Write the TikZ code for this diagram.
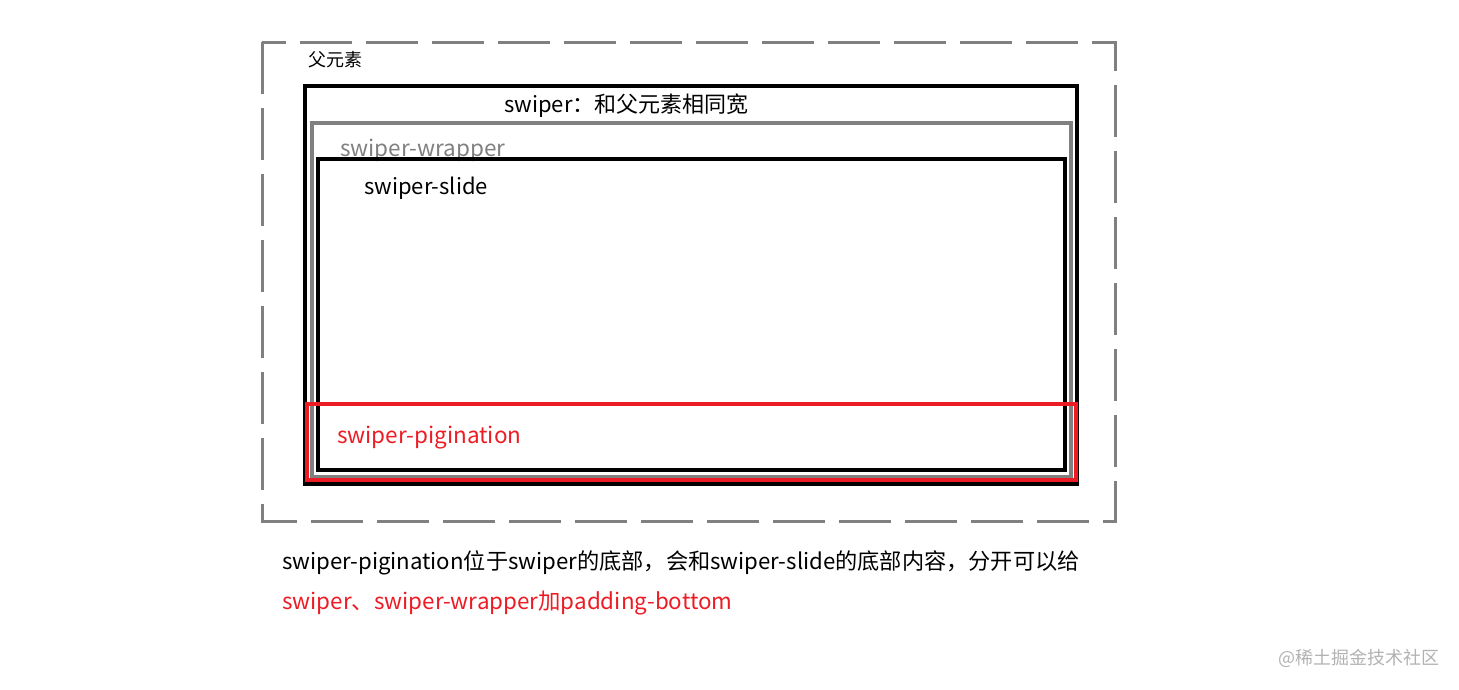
\documentclass[tikz,border=0pt]{standalone}
\usepackage{fontspec}
\setmainfont{Noto Sans CJK SC}
\definecolor{paintred}{RGB}{237,28,36}
\definecolor{paintgray}{RGB}{128,128,128}
\tikzset{
  txt/.style={anchor=base west, inner sep=0pt, font=\fontsize{22}{26}\selectfont},
  small/.style={font=\fontsize{18}{21}\selectfont},
  box/.style={line width=4.8pt},
}

\begin{document}
\begin{tikzpicture}[x=1pt,y=-1pt]
  \useasboundingbox (0,0) rectangle (1459,689);
  % parent element
  \draw[paintgray, line width=3pt, dash pattern=on 52pt off 14pt]
  (262,42) rectangle (1115,521);
  \node[txt, small] (parent) at (308,66) {父元素};
  % swiper
  \draw[box] (305,86) rectangle (1077,484);
  \node[txt] (swiper) at (504,112.5) {swiper：和父元素相同宽};
  % wrapper
  \draw[box, paintgray] (312,123) rectangle (1071,477);
  \node[txt, paintgray, font=\fontsize{22.5}{26}\selectfont] (wrapper) at (340,156) {swiper-wrapper};
  % slide
  \draw[box] (318,159) rectangle (1065,470);
  \node[txt] (slide) at (364,194) {swiper-slide};
  % pagination
  \draw[box, paintred] (307,404) rectangle (1076,480);
  \node[txt, paintred, font=\fontsize{22.5}{26}\selectfont] (pagi) at (337,443) {swiper-pigination};
  % notes
  \node[txt, font=\fontsize{22.2}{26}\selectfont] (note) at (282,569) {swiper-pigination位于swiper的底部，会和swiper-slide的底部内容，分开可以给};
  \node[txt, paintred, font=\fontsize{22.4}{26}\selectfont] (fix) at (282,609) {swiper、swiper-wrapper加padding-bottom};
  \node[txt, small, black!30] (mark) at (1278,664) {@稀土掘金技术社区};
\end{tikzpicture}
\end{document}
